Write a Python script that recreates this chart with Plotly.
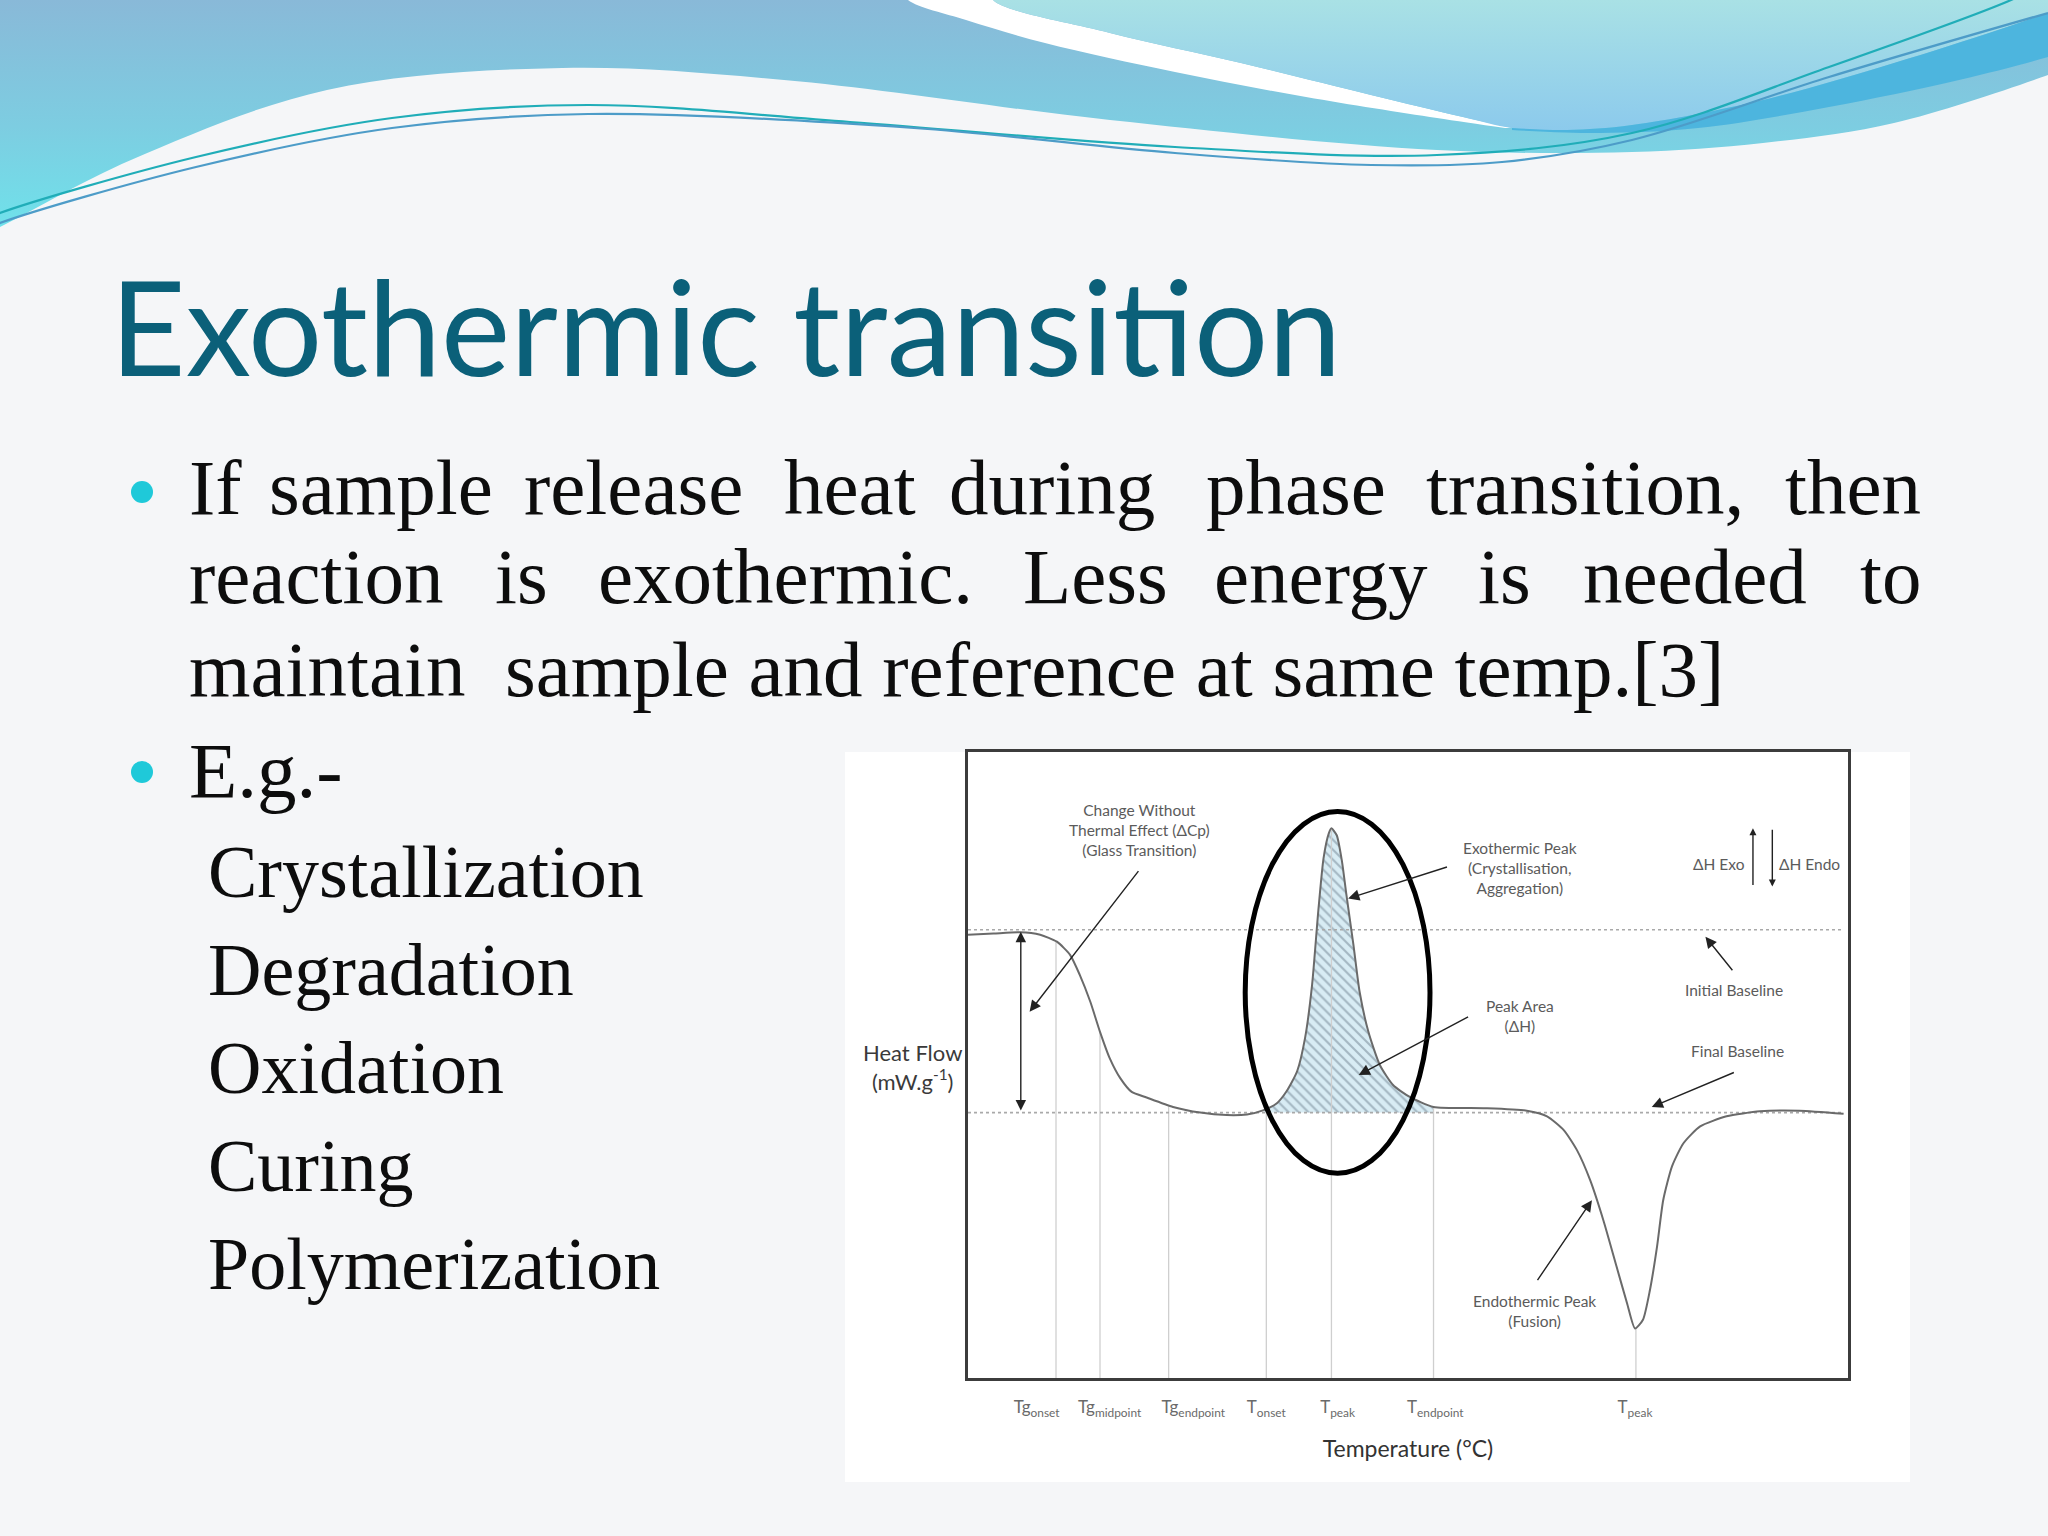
import plotly.graph_objects as go

W, H = 2048, 1536

# ---------------- DSC thermogram data (x: % of temperature span, y: % of heat-flow span)
curve_x = [0, 2.9, 5.9, 8.2, 10.1, 11.6, 12.7, 13.9, 15.0, 16.1, 17.3, 18.6, 20.3, 23.3,
           26.4, 29.4, 31.7, 33.6, 35.1, 36.2, 37.4, 38.3, 39.1, 39.8, 40.4, 41.0, 41.3,
           41.9, 42.5, 43.0, 43.8, 44.5, 45.5, 46.8, 48.3, 50.2, 52.9, 58.6, 63.5, 65.8,
           67.7, 69.2, 70.7, 72.2, 73.7, 74.9, 75.8, 76.7, 77.5, 78.3, 79.0, 80.0, 81.3,
           83.2, 86.2, 90.0, 94.5, 99.5]
curve_y = [70.8, 71.0, 71.2, 70.8, 69.7, 67.6, 64.4, 60.1, 55.3, 51.1, 47.9, 45.7, 44.8, 43.3,
           42.4, 42.0, 42.1, 42.8, 43.9, 45.8, 49.0, 54.3, 62.8, 74.5, 83.0, 87.0, 87.8,
           86.7, 82.5, 77.2, 69.2, 61.7, 55.3, 50.0, 46.8, 44.9, 43.3, 43.1, 42.7, 41.8,
           39.6, 36.4, 31.6, 25.2, 17.8, 11.9, 7.9, 9.3, 14.1, 21.0, 28.4, 33.8, 37.5,
           40.2, 41.8, 42.6, 42.7, 42.2]
initial_baseline = 71.6
final_baseline = 42.4
peak_start, peak_end = 33.6, 52.9

guide_x = [10.0, 15.0, 22.8, 33.9, 41.3, 52.9, 75.9]
guide_top = [69.7, 55.3, 43.4, 42.8, 87.8, 43.3, 7.9]

tick_pos = [7.8, 16.1, 25.6, 33.9, 42.0, 53.1, 75.8]
tick_text = ["Tg<sub>onset</sub>", "Tg<sub>midpoint</sub>", "Tg<sub>endpoint</sub>",
             "T<sub>onset</sub>", "T<sub>peak</sub>", "T<sub>endpoint</sub>", "T<sub>peak</sub>"]

# annotation arrows: (head_x, head_y, tail_x, tail_y)
arrows = [(7.0, 58.5, 19.5, 81.2), (43.2, 76.6, 54.6, 81.7), (44.4, 48.4, 57.0, 57.8),
          (83.8, 70.5, 87.0, 64.9), (77.7, 43.3, 87.2, 48.9), (70.9, 28.4, 64.6, 15.4)]
small_arrows = [(89.2, 87.8, 89.2, 78.5), (91.4, 78.5, 91.4, 87.8)]
double_arrow = (6.0, 42.5, 71.3)

# ---------------- slide text
title_text = "Exothermic transition"
line1_words = ["If", "sample", "release", "heat", "during", "phase", "transition,", "then"]
line2_words = ["reaction", "is", "exothermic.", "Less", "energy", "is", "needed", "to"]
line3_text = "maintain  sample and reference at same temp.[3]"
eg_text = "E.g.-"
examples = ["Crystallization", "Degradation", "Oxidation", "Curing", "Polymerization"]

# ---------------- decorative header waves (page pixels)
band_edge = [(-20, 236), (0, 227), (131, 160), (327, 90), (562, 68), (784, 80), (1110, 120),
             (1437, 150), (1632, 152), (1763, 143), (1894, 123), (2048, 75), (2070, 66)]
swoosh_left = [(900, -12), (908, 0), (966, 20), (1045, 43), (1175, 72), (1306, 97),
               (1437, 118), (1505, 128)]
swoosh_right = [(990, -12), (993, 0), (1110, 33), (1241, 63), (1371, 95), (1463, 117),
                (1512, 128)]
light_edge = [(990, -12), (993, 0), (1110, 33), (1241, 63), (1371, 95), (1463, 117),
              (1512, 128), (1567, 130), (1632, 125), (1763, 100), (1894, 63), (1998, 30),
              (2070, 5)]
dark_lower = [(1512, 130), (1600, 133), (1698, 128), (1829, 107), (1959, 80), (2048, 57),
              (2070, 50)]
thin_line1 = [(-20, 222), (0, 213), (196, 157), (392, 118), (588, 105), (850, 122),
              (1175, 147), (1437, 155), (1632, 133), (1829, 67), (2011, 0), (2030, -10)]
thin_line2 = [(-20, 232), (0, 223), (196, 167), (392, 128), (588, 114), (914, 128),
              (1175, 153), (1371, 165), (1502, 162), (1632, 140), (1829, 77), (2048, 13)]


def px(X):
    return X / W


def py(Y):
    return 1 - Y / H


fig = go.Figure()


def xs(pts):
    return [p[0] for p in pts]


def ys(pts):
    return [p[1] for p in pts]


# ---------------- header decoration on a hidden page-pixel subplot
deco = dict(xaxis="x2", yaxis="y2", hoverinfo="skip", showlegend=False)
fig.add_trace(go.Scatter(x=[-20, 2070], y=[-20, -20], mode="lines",
                         line=dict(width=0), **deco))
fig.add_trace(go.Scatter(x=xs(band_edge), y=ys(band_edge), mode="lines",
                         line=dict(width=0, shape="spline", smoothing=1.0),
                         fill="tonexty",
                         fillgradient=dict(type="vertical", start=0, stop=230,
                                           colorscale=[[0, "#89b9d8"], [0.55, "#7dcde1"],
                                                       [1, "#6fe2eb"]]),
                         **deco))
fig.add_trace(go.Scatter(x=xs(swoosh_left), y=ys(swoosh_left), mode="lines",
                         line=dict(width=0, shape="spline"), **deco))
fig.add_trace(go.Scatter(x=xs(swoosh_right), y=ys(swoosh_right), mode="lines",
                         line=dict(width=0, shape="spline"), fill="tonexty",
                         fillcolor="#ffffff", **deco))
fig.add_trace(go.Scatter(x=[990, 2070], y=[-20, -20], mode="lines",
                         line=dict(width=0), **deco))
fig.add_trace(go.Scatter(x=xs(light_edge), y=ys(light_edge), mode="lines",
                         line=dict(width=0, shape="spline"), fill="tonexty",
                         fillgradient=dict(type="vertical", start=0, stop=130,
                                           colorscale=[[0, "#a9e1e5"], [1, "#8ccaec"]]),
                         **deco))
fig.add_trace(go.Scatter(x=xs(light_edge)[6:], y=ys(light_edge)[6:], mode="lines",
                         line=dict(width=0, shape="spline"), **deco))
fig.add_trace(go.Scatter(x=xs(dark_lower), y=ys(dark_lower), mode="lines",
                         line=dict(width=0, shape="spline"), fill="tonexty",
                         fillcolor="#4db5de", **deco))
fig.add_trace(go.Scatter(x=xs(thin_line1), y=ys(thin_line1), mode="lines",
                         line=dict(width=2.2, color="#20adb8", shape="spline"), **deco))
fig.add_trace(go.Scatter(x=xs(thin_line2), y=ys(thin_line2), mode="lines",
                         line=dict(width=2.2, color="#4d9cc8", shape="spline"), **deco))

# ---------------- DSC chart
fig.add_trace(go.Scatter(x=[peak_start, peak_end], y=[final_baseline, final_baseline],
                         mode="lines", line=dict(width=0), hoverinfo="skip",
                         showlegend=False))
seg = [(x, y) for x, y in zip(curve_x, curve_y) if peak_start <= x <= peak_end]
fig.add_trace(go.Scatter(x=[p[0] for p in seg], y=[p[1] for p in seg], mode="lines",
                         line=dict(width=0, shape="spline", smoothing=0.6),
                         fill="tonexty", fillcolor="#d8ecf4",
                         fillpattern=dict(shape="\\", fgcolor="#6f8290", bgcolor="#d8ecf4",
                                          size=7, solidity=0.3),
                         hoverinfo="skip", showlegend=False))

gx, gy = [], []
for x, t in zip(guide_x, guide_top):
    gx += [x, x, None]
    gy += [0, t, None]
fig.add_trace(go.Scatter(x=gx, y=gy, mode="lines", line=dict(color="#cfcfcf", width=1.3),
                         hoverinfo="skip", showlegend=False))

for b in (initial_baseline, final_baseline):
    fig.add_trace(go.Scatter(x=[0, 99.5], y=[b, b], mode="lines",
                             line=dict(color="#a9a9a9", width=1.6, dash="dot"),
                             hoverinfo="skip", showlegend=False))

fig.add_trace(go.Scatter(x=curve_x, y=curve_y, mode="lines",
                         line=dict(color="#6a6a6a", width=2, shape="spline", smoothing=0.6),
                         showlegend=False))

chart_font = "Lato, 'Open Sans', sans-serif"
serif = "'Liberation Serif', 'DejaVu Serif', serif"
ann = []


def arrow(hx, hy, tx, ty, size=1.6, side="end"):
    ann.append(dict(text="", x=hx, y=hy, ax=tx, ay=ty, xref="x", yref="y", axref="x",
                    ayref="y", showarrow=True, arrowhead=2, arrowsize=size, arrowwidth=1.4,
                    arrowcolor="#222222", arrowside=side, standoff=0, startstandoff=0))


for hx, hy, tx, ty in arrows:
    arrow(hx, hy, tx, ty)
for hx, hy, tx, ty in small_arrows:
    arrow(hx, hy, tx, ty, size=1.0)
dx, dlo, dhi = double_arrow
arrow(dx, dhi, dx, dlo, size=1.5, side="end+start")


def note(text, x, y, size=15.5, color="#5b5b5b"):
    ann.append(dict(text=text, x=x, y=y, xref="x", yref="y", showarrow=False,
                    xanchor="center", yanchor="middle",
                    font=dict(family=chart_font, size=size, color=color), align="center"))


note("Change Without<br>Thermal Effect (ΔCp)<br>(Glass Transition)", 19.5, 87.6)
note("Exothermic Peak<br>(Crystallisation,<br>Aggregation)", 62.7, 81.5)
note("Peak Area<br>(ΔH)", 62.7, 57.8)
note("ΔH Exo", 85.3, 82.1)
note("ΔH Endo", 95.6, 82.1)
note("Initial Baseline", 87.0, 62.0)
note("Final Baseline", 87.4, 52.2)
note("Endothermic Peak<br>(Fusion)", 64.4, 10.7)

# Heat flow label (left of box)
ann.append(dict(text="Heat Flow<br>(mW.g<sup>-1</sup>)", x=px(912), y=py(1067), xref="paper",
                yref="paper", xanchor="center", yanchor="middle", showarrow=False,
                align="center", font=dict(family=chart_font, size=22, color="#3a3a3a")))


# ---------------- slide text
def ptext(text, X, baseline, size, family, color, anchor="left", asc=0.3375):
    ann.append(dict(text=text, x=px(X), y=py(baseline - asc * size), xref="paper",
                    yref="paper", xanchor=anchor, yanchor="middle", showarrow=False,
                    font=dict(family=family, size=size, color=color)))


ptext(title_text, 108, 376, 131, "Lato, 'Open Sans', sans-serif", "#0b6079", asc=0.387)

BODY = 79
INK = "#0d0d0d"
ptext(line1_words[0], 187, 514, BODY, serif, INK)
line1_centres = [381, 633, 850, 1052, 1296, 1585]
for w, X in zip(line1_words[1:-1], line1_centres):
    ptext(w, X, 514, BODY, serif, INK, anchor="center")
ptext(line1_words[-1], 1923, 514, BODY, serif, INK, anchor="right")

ptext(line2_words[0], 187, 603, BODY, serif, INK)
line2_centres = [521, 785, 1095, 1321, 1504, 1695]
for w, X in zip(line2_words[1:-1], line2_centres):
    ptext(w, X, 603, BODY, serif, INK, anchor="center")
ptext(line2_words[-1], 1923, 603, BODY, serif, INK, anchor="right")

ptext(line3_text, 187, 696, BODY, serif, INK)
ptext(eg_text, 187, 797, BODY, serif, INK)
for i, e in enumerate(examples):
    ptext(e, 206, 897 + 98 * i, 74, serif, INK)

shapes = [
    # white image background behind chart
    dict(type="rect", xref="paper", yref="paper", x0=px(845), x1=px(1910), y0=py(1482),
         y1=py(752), fillcolor="#ffffff", line=dict(width=0), layer="below"),
    # ellipse around exothermic peak
    dict(type="circle", xref="x", yref="y", x0=31.5, x1=52.5, y0=32.7, y1=90.5,
         line=dict(color="#000000", width=5)),
]
for cy in (492, 772):
    shapes.append(dict(type="circle", xref="paper", yref="paper", x0=px(131), x1=px(153),
                       y0=py(cy + 11), y1=py(cy - 11), fillcolor="#1fc9d9",
                       line=dict(width=0)))

fig.update_layout(
    width=W, height=H, margin=dict(l=0, r=0, t=0, b=0),
    paper_bgcolor="#f5f6f8", plot_bgcolor="rgba(0,0,0,0)",
    showlegend=False, annotations=ann, shapes=shapes,
    xaxis=dict(domain=[px(968), px(1848)], range=[0, 100], showgrid=False, zeroline=False,
               showline=True, mirror=True, linecolor="#3c3c3c", linewidth=3,
               tickvals=tick_pos, ticktext=tick_text, ticks="", ticklabelstandoff=12,
               tickfont=dict(family=chart_font, size=17, color="#6a6a6a"),
               title=dict(text="Temperature (°C)", standoff=22,
                          font=dict(family=chart_font, size=23, color="#333333")),
               fixedrange=True),
    yaxis=dict(domain=[py(1378), py(752)], range=[0, 100], showgrid=False, zeroline=False,
               showline=True, mirror=True, linecolor="#3c3c3c", linewidth=3,
               showticklabels=False, ticks="", fixedrange=True),
    xaxis2=dict(domain=[0, 1], range=[0, W], visible=False, anchor="y2", fixedrange=True),
    yaxis2=dict(domain=[py(250), 1], range=[250, 0], visible=False, anchor="x2",
                fixedrange=True),
)

fig.write_html("out.html", config={"displayModeBar": False},
               post_script="document.body.style.margin='0';document.body.style.overflow='hidden';")
